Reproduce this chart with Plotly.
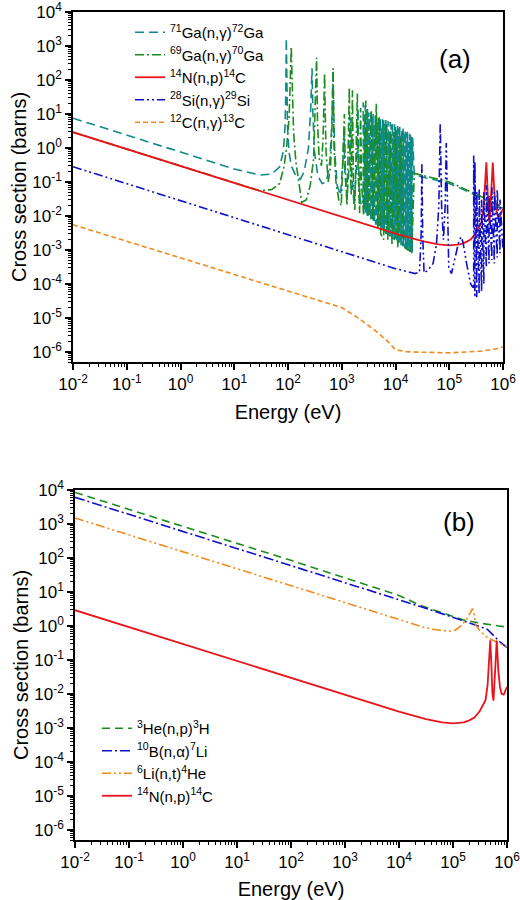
import plotly.graph_objects as go

# ---------------- panel (a) data (energy in eV, cross section in barns) ----------------
ga71_e = [0.01, 1, 10, 30, 50, 70, 82, 88, 91, 93, 95, 98, 104, 115, 140, 170, 200, 240,
          265, 280, 290, 310, 360, 430, 520, 600, 650, 675, 690, 705, 740, 820, 950, 1060,
          1100, 1140, 1250, 1400, 1470, 1530, 1700, 1900, 2000, 2100, 2300, 2450]
ga71_xs = [7.5, 0.75, 0.24, 0.16, 0.17, 0.28, 0.8, 4, 40, 1700, 60, 4, 0.8, 0.3, 0.15, 0.12,
           0.2, 1, 15, 220, 12, 0.8, 0.15, 0.09, 0.1, 0.4, 4, 40, 200, 20, 0.8, 0.08, 0.04,
           0.5, 3.4, 0.2, 0.03, 0.5, 8, 0.2, 0.02, 0.4, 15, 0.05, 0.02, 0.02]

# dense resonance block of 71Ga
ga71_block_e = [2510, 2580, 2650, 2690, 2730, 2810, 2900, 2950, 3010, 3090, 3180, 3230, 3290,
                3380, 3480, 3550, 3620, 3720, 3820, 3890, 3960, 4080, 4190, 4270, 4350, 4470,
                4590, 4680, 4770, 4900, 5030, 5130, 5230, 5370, 5520, 5630, 5740, 5900, 6050,
                6170, 6290, 6460, 6640, 6760, 6890, 7080, 7280, 7420, 7560, 7770, 7980, 8130,
                8290, 8520, 8750, 8920, 9090, 9340, 9600, 9780, 9970, 10250, 10520, 10720,
                10930, 11230, 11530, 11760, 11990, 12320, 12650, 12890, 13140, 13500, 13870,
                14130, 14400, 14800, 15220, 15510, 15800, 16240, 16690, 17010, 17330, 17810,
                18300, 18650, 19000, 19530, 20050, 20450, 20850]
ga71_block_peak = [22, 6, 9, 12, 18, 4, 6, 15, 14, 5, 11, 8, 4, 12, 13, 3, 8, 9, 10, 4, 5, 8,
                   9, 3, 7, 6, 3, 7, 8, 2.5, 6, 7, 7.5, 3, 4, 6.5, 7, 2.5, 6.5, 5, 3, 6, 6.6,
                   2.2, 5, 4, 6.2, 3, 2.5, 5.5, 5.8, 2, 4.8, 5, 5.5, 2, 3, 4.5, 5, 1.8, 4.2, 3.6,
                   2, 4, 4.4, 1.6, 3.8, 3.6, 4.2, 1.5, 2.5, 3.4, 3.5, 1.4, 3.8, 2.6, 1.8, 3,
                   3.3, 1.3, 2.8, 2.7, 3, 1.2, 1.5, 2.5, 2.6, 1.2, 2.4, 2.2, 2.1, 1.1, 2.0]
ga71_block_dip = [0.02, 0.017, 0.015, 0.013, 0.012, 0.013, 0.014, 0.011, 0.01, 0.0095, 0.009,
                  0.01, 0.011, 0.009, 0.008, 0.0075, 0.007, 0.008, 0.009, 0.007, 0.006,
                  0.0065, 0.007, 0.006, 0.0055, 0.0058, 0.006, 0.0052, 0.005, 0.0046, 0.0045,
                  0.0048, 0.005, 0.0044, 0.004, 0.0041, 0.0042, 0.0038, 0.0035, 0.0037,
                  0.0038, 0.0033, 0.003, 0.0032, 0.0033, 0.003, 0.0028, 0.0029, 0.003, 0.0027,
                  0.0025, 0.0026, 0.0027, 0.0024, 0.0022, 0.0023, 0.0024, 0.0021, 0.002,
                  0.0021, 0.0021, 0.0019, 0.0018, 0.0019, 0.0019, 0.0017, 0.0016, 0.0017,
                  0.0017, 0.0015, 0.0014, 0.0015, 0.0015, 0.0014, 0.0013, 0.0013, 0.0013,
                  0.0012, 0.0011, 0.0012, 0.0012, 0.0011, 0.001, 0.001, 0.001, 0.00095,
                  0.0009, 0.0009, 0.0009, 0.00085, 0.0008, 0.0008, 0.0008]
ga71_hi_e = [22400, 31600, 1e5, 2.3e5, 5e5, 8.3e5, 1e6]
ga71_hi_xs = [0.16, 0.14, 0.09, 0.051, 0.028, 0.018, 0.017]

ga69_e = [0.01, 1, 10, 30, 50, 70, 85, 95, 105, 110, 113, 115, 117, 120, 127, 140, 160, 180,
          220, 260, 300, 325, 335, 340, 345, 355, 380, 420, 450, 470, 480, 490, 510, 560, 620,
          660, 680, 690, 700, 720, 780, 880, 980, 1040, 1080, 1120, 1160, 1250, 1330, 1380,
          1430, 1500, 1580, 1650, 1750, 1880, 1950, 2020, 2150, 2240, 2330, 2550, 2800, 3050,
          3300, 3550, 3800, 4100, 4400, 4700, 5000, 5300, 6000, 6600, 7200, 7900, 8600,
          10000, 11000, 12600, 14000, 17000, 20000, 22400, 31600, 1e5, 2.3e5, 5e5, 8.3e5, 1e6]
ga69_xs = [2.9, 0.29, 0.092, 0.055, 0.06, 0.09, 0.3, 1.2, 8, 60, 400, 950, 300, 30, 3, 0.4,
           0.08, 0.025, 0.03, 0.08, 0.5, 20, 200, 450, 100, 5, 0.5, 0.3, 2, 20, 160, 15, 0.8,
           0.1, 0.3, 5, 40, 220, 30, 1, 0.1, 0.03, 0.02, 0.5, 3, 10, 0.3, 0.02, 2, 60, 0.5,
           0.04, 50, 0.1, 0.015, 3, 40, 0.2, 0.012, 15, 0.1, 0.01, 25, 0.01, 0.3, 12, 0.008,
           0.5, 20, 0.004, 8, 0.003, 0.002, 5.5, 0.002, 3, 0.0015, 3.5, 0.0012, 2, 0.0013,
           0.001, 0.0009, 0.18, 0.155, 0.1, 0.056, 0.031, 0.02, 0.019]

n14_e = [0.01, 1, 100, 1000, 1e4, 31600, 63000, 1e5, 1.58e5, 2e5, 2.5e5, 3.16e5, 3.55e5,
         4e5, 4.37e5, 4.68e5, 4.9e5, 5.13e5, 5.37e5, 5.62e5, 5.9e5, 6.17e5, 6.46e5, 6.9e5,
         7.4e5, 7.94e5, 8.7e5, 1e6]
n14_xs = [2.9, 0.29, 0.029, 0.0091, 0.003, 0.0018, 0.00145, 0.00135, 0.00145, 0.00166,
          0.002, 0.0032, 0.0045, 0.0065, 0.018, 0.11, 0.38, 0.079, 0.01, 0.0063, 0.032, 0.16,
          0.37, 0.05, 0.016, 0.01, 0.0095, 0.016]

si28_e = [0.01, 1, 100, 1e4, 23000, 28000, 30000, 31000, 32000, 34000, 40000, 50000, 58000,
          64000, 68000, 72000, 78000, 84000, 88000, 92000, 98000, 1.1e5, 1.3e5, 1.5e5, 1.65e5,
          1.8e5, 2.1e5, 2.5e5, 2.75e5]
si28_xs = [0.28, 0.028, 0.0028, 0.00028, 0.0002, 0.00022, 0.003, 0.36, 0.003, 0.00021,
           0.00025, 0.0004, 0.0015, 0.02, 5.5, 0.02, 0.002, 0.02, 1.4, 0.01, 0.0003, 0.0002,
           0.0007, 0.0017, 0.0024, 0.0017, 0.0004, 0.0001, 8e-5]
si28_res_e = [2.85e5, 3.0e5, 3.25e5, 3.6e5, 4.0e5, 4.4e5, 4.9e5, 5.5e5, 6.2e5, 6.9e5, 7.8e5,
              8.8e5]
si28_res_peak = [0.6, 0.4, 0.05, 0.06, 0.03, 0.05, 0.08, 0.04, 0.07, 0.05, 0.06, 0.03]
si28_res_dip = [8e-5, 4e-5, 4e-5, 5e-5, 6e-5, 1e-4, 3e-4, 4e-4, 5e-4, 4e-4, 6e-4, 8e-4]

c12_e = [0.01, 1000, 2000, 4000, 6800, 1e4, 16000, 1e5, 4e5, 8e5, 1e6]
c12_xs = [5.5e-3, 2.0e-5, 1.0e-5, 4.5e-6, 2.2e-6, 1.15e-6, 1.0e-6, 9.3e-7, 1.05e-6, 1.25e-6,
          1.4e-6]

# ---------------- panel (b) data ----------------
he3_e = [0.01, 100, 1e4, 25000, 1.6e5, 3.2e5, 7e5, 1e6]
he3_xs = [8500, 85, 7.9, 4.0, 1.48, 1.2, 1.0, 0.93]

b10_e = [0.01, 100, 1e4, 25000, 1.6e5, 2.5e5, 4.3e5, 7.4e5, 1e6]
b10_xs = [6100, 61, 6.1, 3.7, 1.4, 1.1, 0.8, 0.34, 0.23]

li6_e = [0.01, 1e4, 24000, 40000, 85000, 1.1e5, 1.4e5, 1.8e5, 2.1e5, 2.3e5, 2.5e5, 2.6e5,
         3.2e5, 4.2e5, 7.4e5, 1e6]
li6_xs = [1500, 1.5, 1.0, 0.8, 0.7, 0.75, 1.0, 1.6, 2.6, 3.2, 2.0, 1.1, 0.7, 0.47, 0.3, 0.24]

# tick labels
x_tickvals = [1e-2, 1e-1, 1, 10, 100, 1e3, 1e4, 1e5, 1e6]
x_ticktext = ["10<sup>-2</sup>", "10<sup>-1</sup>", "10<sup>0</sup>", "10<sup>1</sup>",
              "10<sup>2</sup>", "10<sup>3</sup>", "10<sup>4</sup>", "10<sup>5</sup>",
              "10<sup>6</sup>"]
y_tickvals = [1e-6, 1e-5, 1e-4, 1e-3, 1e-2, 1e-1, 1, 10, 100, 1e3, 1e4]
y_ticktext = ["10<sup>-6</sup>", "10<sup>-5</sup>", "10<sup>-4</sup>", "10<sup>-3</sup>",
              "10<sup>-2</sup>", "10<sup>-1</sup>", "10<sup>0</sup>", "10<sup>1</sup>",
              "10<sup>2</sup>", "10<sup>3</sup>", "10<sup>4</sup>"]


def spikes(e_list, peak_list, dip_list):
    xs, ys = [], []
    for e, p, d in zip(e_list, peak_list, dip_list):
        xs += [e, e]
        ys += [d, p]
    return xs, ys


blk_x, blk_y = spikes(ga71_block_e, ga71_block_peak, ga71_block_dip)
ga71_x = ga71_e + blk_x + ga71_hi_e
ga71_y = ga71_xs + blk_y + ga71_hi_xs

res_x, res_y = spikes(si28_res_e, si28_res_peak, si28_res_dip)
si28_x = si28_e + res_x + [1e6]
si28_y = si28_xs + res_y + [0.001]

TEAL = "#0f8a8a"
GREEN = "#1c8c1c"
RED = "#e8141b"
BLUE = "#1010c8"
ORANGE = "#f08a1c"
FONT = "Liberation Sans, Arial, sans-serif"

W, H = 520, 900


def px(x):
    return x / W


def py(y):
    return 1 - y / H


fig = go.Figure()

# panel (a)
fig.add_trace(go.Scatter(x=ga71_x, y=ga71_y, mode="lines", xaxis="x", yaxis="y",
                         name="<sup>71</sup>Ga(n,γ)<sup>72</sup>Ga", legend="legend",
                         line=dict(color=TEAL, width=1.6, dash="9px,5px")))
fig.add_trace(go.Scatter(x=ga69_e, y=ga69_xs, mode="lines", xaxis="x", yaxis="y",
                         name="<sup>69</sup>Ga(n,γ)<sup>70</sup>Ga", legend="legend",
                         line=dict(color=GREEN, width=1.6, dash="9px,3px,2px,3px")))
fig.add_trace(go.Scatter(x=n14_e, y=n14_xs, mode="lines", xaxis="x", yaxis="y",
                         name="<sup>14</sup>N(n,p)<sup>14</sup>C", legend="legend",
                         line=dict(color=RED, width=1.8)))
fig.add_trace(go.Scatter(x=si28_x, y=si28_y, mode="lines", xaxis="x", yaxis="y",
                         name="<sup>28</sup>Si(n,γ)<sup>29</sup>Si", legend="legend",
                         line=dict(color=BLUE, width=1.6, dash="9px,3px,2px,3px,2px,3px")))
fig.add_trace(go.Scatter(x=c12_e, y=c12_xs, mode="lines", xaxis="x", yaxis="y",
                         name="<sup>12</sup>C(n,γ)<sup>13</sup>C", legend="legend",
                         line=dict(color=ORANGE, width=1.6, dash="5px,3px")))

# panel (b)
fig.add_trace(go.Scatter(x=he3_e, y=he3_xs, mode="lines", xaxis="x2", yaxis="y2",
                         name="<sup>3</sup>He(n,p)<sup>3</sup>H", legend="legend2",
                         line=dict(color=GREEN, width=1.6, dash="8px,5px")))
fig.add_trace(go.Scatter(x=b10_e, y=b10_xs, mode="lines", xaxis="x2", yaxis="y2",
                         name="<sup>10</sup>B(n,α)<sup>7</sup>Li", legend="legend2",
                         line=dict(color=BLUE, width=1.6, dash="10px,3px,2px,3px")))
fig.add_trace(go.Scatter(x=li6_e, y=li6_xs, mode="lines", xaxis="x2", yaxis="y2",
                         name="<sup>6</sup>Li(n,t)<sup>4</sup>He", legend="legend2",
                         line=dict(color=ORANGE, width=1.6, dash="9px,3px,2px,3px,2px,3px")))
fig.add_trace(go.Scatter(x=n14_e, y=n14_xs, mode="lines", xaxis="x2", yaxis="y2",
                         name="<sup>14</sup>N(n,p)<sup>14</sup>C", legend="legend2",
                         line=dict(color=RED, width=1.8)))

axis_common = dict(
    type="log", showline=True, linecolor="black", linewidth=1.5, mirror=True,
    ticks="outside", ticklen=6, tickwidth=1.5, tickcolor="black", automargin=False,
    ticklabeloverflow="allow",
    minor=dict(ticks="outside", ticklen=3, tickwidth=1, tickcolor="black", dtick="D1",
               showgrid=False),
    showgrid=False, zeroline=False, tickmode="array",
    tickfont=dict(family=FONT, size=17, color="black"),
)
xaxis_common = dict(axis_common, range=[-2, 6], tickvals=x_tickvals, ticktext=x_ticktext,
                    title=dict(text="Energy (eV)",
                               font=dict(family=FONT, size=20, color="black"), standoff=12))
yaxis_common = dict(axis_common, range=[-6.3, 4], tickvals=y_tickvals, ticktext=y_ticktext,
                    title=dict(text="Cross section (barns)",
                               font=dict(family=FONT, size=20, color="black"), standoff=0))

legend_common = dict(bgcolor="rgba(0,0,0,0)", font=dict(family=FONT, size=15, color="black"),
                     xanchor="left", yanchor="top", tracegroupgap=0)

fig.update_layout(
    width=W, height=H,
    margin=dict(l=0, r=0, t=0, b=0),
    paper_bgcolor="white", plot_bgcolor="white",
    font=dict(family=FONT, color="black"),
    xaxis=dict(xaxis_common, domain=[px(73), px(503)], anchor="y"),
    yaxis=dict(yaxis_common, domain=[py(362), py(12)], anchor="x"),
    xaxis2=dict(xaxis_common, domain=[px(75), px(507)], anchor="y2"),
    yaxis2=dict(yaxis_common, domain=[py(840), py(490)], anchor="x2"),
    legend=dict(legend_common, x=px(130), y=py(16)),
    legend2=dict(legend_common, x=px(97), y=py(712)),
    annotations=[
        dict(text="(a)", x=px(473), y=py(42), xref="paper", yref="paper",
             showarrow=False, font=dict(family=FONT, size=26, color="black")),
        dict(text="(b)", x=px(477), y=py(522), xref="paper", yref="paper",
             showarrow=False, font=dict(family=FONT, size=26, color="black")),
    ],
)

# drop the browser's default 8px body margin so the 520x900 figure fills the window
fig.write_html("out.html", config={"displayModeBar": False},
               post_script="document.body.style.margin = '0px';")
